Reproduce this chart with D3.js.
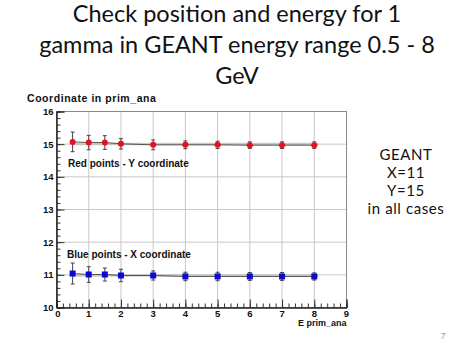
<!DOCTYPE html>
<html><head><meta charset="utf-8">
<script src="https://cdn.jsdelivr.net/npm/d3@7"></script>
<style>html,body{margin:0;padding:0;background:#fff;}svg{display:block;}</style>
</head><body>
<svg id="c" width="474" height="355"></svg>
<script>
// ---- data ----
const titleLines = ["Check position and energy for 1", "gamma in GEANT energy range 0.5 - 8", "GeV"];
const noteLines = ["GEANT", "X=11", "Y=15", "in all cases"];
const energies = [0.5, 1, 1.5, 2, 3, 4, 5, 6, 7, 8];
const yCoord = [15.07, 15.05, 15.05, 15.01, 14.98, 14.98, 14.98, 14.97, 14.97, 14.97];
const yCoordErr = [0.30, 0.22, 0.21, 0.16, 0.15, 0.12, 0.11, 0.10, 0.10, 0.10];
const xCoord = [11.04, 11.01, 11.01, 10.98, 10.98, 10.95, 10.95, 10.95, 10.95, 10.95];
const xCoordErr = [0.32, 0.24, 0.20, 0.19, 0.14, 0.13, 0.13, 0.12, 0.12, 0.11];
const energyErr = [0.08, 0.08, 0.08, 0.08, 0.08, 0.1, 0.1, 0.1, 0.1, 0.1];
const xTicks = [0, 1, 2, 3, 4, 5, 6, 7, 8, 9];
const yTicks = [10, 11, 12, 13, 14, 15, 16];

const svg = d3.select("#c");
// title
svg.append("g").selectAll("text").data(titleLines).join("text")
  .attr("x", 237).attr("y", (d, i) => 22 + i * 31)
  .attr("text-anchor", "middle")
  .attr("font-family", "Lato, 'Open Sans', sans-serif").attr("font-size", 23.5)
  .attr("fill", "#111").text(d => d);

// note on the right
svg.append("g").selectAll("text").data(noteLines).join("text")
  .attr("x", 406).attr("y", (d, i) => 159.5 + i * 18)
  .attr("text-anchor", "middle")
  .attr("font-family", "Lato, 'Open Sans', sans-serif").attr("font-size", 15)
  .attr("letter-spacing", 0.6)
  .attr("fill", "#111").text(d => d);

svg.append("text").attr("x", 443).attr("y", 339).attr("text-anchor", "middle")
  .attr("font-family", "Lato, sans-serif").attr("font-size", 8).attr("fill", "#999").text("7");

// chart
const L = 56.5, R = 346.5, T = 111.5, B = 307.5;
const x = d3.scaleLinear().domain([0, 9]).range([L, R]);
const y = d3.scaleLinear().domain([10, 16]).range([B, T]);
const g = svg.append("g");

// grid
g.append("g").selectAll("line").data(xTicks.slice(1, -1)).join("line")
  .attr("x1", d => x(d)).attr("x2", d => x(d)).attr("y1", T).attr("y2", B)
  .attr("stroke", "#c8c8c8").attr("stroke-width", 1);
g.append("g").selectAll("line").data(yTicks.slice(1, -1)).join("line")
  .attr("y1", d => y(d)).attr("y2", d => y(d)).attr("x1", L).attr("x2", R)
  .attr("stroke", "#c8c8c8").attr("stroke-width", 1);

// frame
g.append("rect").attr("x", L).attr("y", T).attr("width", R - L).attr("height", B - T)
  .attr("fill", "none").attr("stroke", "#888").attr("stroke-width", 1);

// axes (ticks inside)
const fontAx = "'Liberation Sans', Arial, sans-serif";
const xAxis = d3.axisTop(x).tickValues(xTicks).tickSize(8).tickFormat("");
const xMinor = d3.axisTop(x).tickValues(d3.range(0, 9.001, 0.2)).tickSize(4).tickFormat("");
const yAxis = d3.axisRight(y).tickValues(yTicks).tickSize(8).tickFormat("");
const yMinor = d3.axisRight(y).tickValues(d3.range(10, 16.001, 0.2)).tickSize(4).tickFormat("");
[xAxis, xMinor].forEach(a => {
  const ga = g.append("g").attr("transform", `translate(0,${B})`).call(a);
  ga.select(".domain").attr("stroke", "#222");
  ga.selectAll(".tick line").attr("stroke", "#333");
});
[yAxis, yMinor].forEach(a => {
  const ga = g.append("g").attr("transform", `translate(${L},0)`).call(a);
  ga.select(".domain").attr("stroke", "#222");
  ga.selectAll(".tick line").attr("stroke", "#333");
});
// tick labels
g.append("g").selectAll("text").data(xTicks).join("text")
  .attr("x", d => x(d) + (d === 0 ? 1.5 : 0)).attr("y", B + 9.5).attr("text-anchor", "middle")
  .attr("font-family", fontAx).attr("font-weight", "bold").attr("font-size", 9.5).attr("fill", "#111")
  .text(d => d);
g.append("g").selectAll("text").data(yTicks).join("text")
  .attr("x", L - 3).attr("y", d => y(d) + (d === 10 ? 3 : 3.5)).attr("text-anchor", "end")
  .attr("font-family", fontAx).attr("font-weight", "bold").attr("font-size", 9.5).attr("fill", "#111")
  .text(d => d);
// axis titles
svg.append("text").attr("x", 27).attr("y", 102).attr("font-family", fontAx)
  .attr("font-weight", "bold").attr("font-size", 10.5).attr("letter-spacing", 0.55)
  .attr("fill", "#111").text("Coordinate in prim_ana");
svg.append("text").attr("x", R).attr("y", 325.5).attr("text-anchor", "end").attr("font-family", fontAx)
  .attr("font-weight", "bold").attr("font-size", 9).attr("fill", "#111").text("E prim_ana");

// series
const series = [
  {vals: yCoord, errs: yCoordErr, color: "#e8101c", shape: "circle", label: "Red points - Y coordinate", lx: 68, ly: 167},
  {vals: xCoord, errs: xCoordErr, color: "#0a0ad8", shape: "square", label: "Blue points - X coordinate", lx: 67, ly: 257.5}
];
series.forEach(s => {
  const pts = energies.map((e, i) => ({e, v: s.vals[i], err: s.errs[i], ex: energyErr[i]}));
  // fit band
  g.append("line").attr("x1", x(energies[0])).attr("x2", x(energies[energies.length - 1]) + 4)
    .attr("y1", y(d3.mean(s.vals))).attr("y2", y(d3.mean(s.vals)))
    .attr("stroke", "#bbb").attr("stroke-width", 2.5).attr("opacity", 0.7);
  g.append("path").datum(pts)
    .attr("d", d3.line().x(d => x(d.e)).y(d => y(d.v)))
    .attr("fill", "none").attr("stroke", "#555").attr("stroke-width", 1);
  const eg = g.append("g").attr("stroke", "#444").attr("stroke-width", 1);
  eg.selectAll(".v").data(pts).join("line").attr("class", "v")
    .attr("x1", d => x(d.e)).attr("x2", d => x(d.e)).attr("y1", d => y(d.v - d.err)).attr("y2", d => y(d.v + d.err));
  eg.selectAll(".c1").data(pts).join("line").attr("class", "c1")
    .attr("x1", d => x(d.e) - 2).attr("x2", d => x(d.e) + 2).attr("y1", d => y(d.v - d.err)).attr("y2", d => y(d.v - d.err));
  eg.selectAll(".c2").data(pts).join("line").attr("class", "c2")
    .attr("x1", d => x(d.e) - 2).attr("x2", d => x(d.e) + 2).attr("y1", d => y(d.v + d.err)).attr("y2", d => y(d.v + d.err));
  eg.selectAll(".h").data(pts).join("line").attr("class", "h")
    .attr("x1", d => x(d.e - d.ex)).attr("x2", d => x(d.e + d.ex)).attr("y1", d => y(d.v)).attr("y2", d => y(d.v));
  if (s.shape === "circle") {
    g.append("g").selectAll("circle").data(pts).join("circle")
      .attr("cx", d => x(d.e)).attr("cy", d => y(d.v)).attr("r", 3).attr("fill", s.color);
  } else {
    g.append("g").selectAll("rect").data(pts).join("rect")
      .attr("x", d => x(d.e) - 3).attr("y", d => y(d.v) - 3).attr("width", 6).attr("height", 6).attr("fill", s.color);
  }
  g.append("text").attr("x", s.lx).attr("y", s.ly).attr("font-family", fontAx)
    .attr("font-weight", "bold").attr("font-size", 10).attr("fill", "#111").text(s.label);
});
</script>
</body></html>
